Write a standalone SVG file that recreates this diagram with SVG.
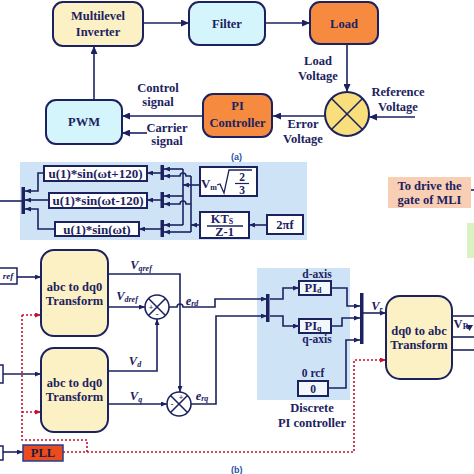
<svg xmlns="http://www.w3.org/2000/svg" width="474" height="474" viewBox="0 0 474 474">
<defs>
<style>
.t{font-family:"Liberation Serif","Times New Roman",serif;font-weight:bold;fill:#1c2260;text-anchor:middle}
.s12{font-size:12.5px}
.s13{font-size:12.5px}
.s11{font-size:11.5px}
.it{font-style:italic}
.lab{font-family:"Liberation Sans",Arial,sans-serif;font-size:9px;fill:#2b55a8;font-weight:bold}
.bx{stroke:#1c2260;stroke-width:2}
.ln{fill:none;stroke:#1c2260;stroke-width:1.6}
.rd{fill:none;stroke:#c8102e;stroke-width:1.6;stroke-dasharray:2,2}
.bar{fill:#1c2260}
</style>
<marker id="a" markerUnits="userSpaceOnUse" markerWidth="8" markerHeight="7" refX="8" refY="3.5" orient="auto"><path d="M0,0 L8,3.5 L0,7 z" fill="#1c2260"/></marker>
<marker id="s" markerUnits="userSpaceOnUse" markerWidth="6" markerHeight="5" refX="6" refY="2.5" orient="auto"><path d="M0,0 L6,2.5 L0,5 z" fill="#1c2260"/></marker>
<marker id="r" markerUnits="userSpaceOnUse" markerWidth="6" markerHeight="5" refX="6" refY="2.5" orient="auto"><path d="M0,0 L6,2.5 L0,5 z" fill="#c8102e"/></marker>
</defs>
<rect width="474" height="474" fill="#ffffff"/>

<!-- panels -->
<rect x="20" y="162" width="287" height="78" fill="#cfe3f7"/>
<rect x="257" y="268" width="93" height="132" fill="#cfe3f7"/>

<!-- connectors -->
<g id="connectors">
<line class="ln" x1="143" y1="23" x2="189" y2="23" marker-end="url(#a)"/>
<line class="ln" x1="265" y1="23" x2="310" y2="23" marker-end="url(#a)"/>
<line class="ln" x1="347" y1="44" x2="347" y2="92" marker-end="url(#a)"/>
<line class="ln" x1="415" y1="117" x2="369" y2="117" marker-end="url(#a)"/>
<line class="ln" x1="325" y1="116" x2="273" y2="116" marker-end="url(#a)"/>
<line class="ln" x1="203" y1="116" x2="122" y2="116" marker-end="url(#a)"/>
<line class="ln" x1="147" y1="133" x2="122" y2="133" marker-end="url(#a)"/>
<line class="ln" x1="94" y1="100" x2="94" y2="46" marker-end="url(#a)"/>

<line class="ln" x1="0" y1="201" x2="23" y2="201"/>
<polyline class="ln" points="44,173 38,173 38,191 25,191" marker-end="url(#s)"/>
<line class="ln" x1="49" y1="200" x2="25" y2="200" marker-end="url(#s)"/>
<polyline class="ln" points="55,229 38,229 38,209 25,209" marker-end="url(#s)"/>
<line class="ln" x1="162" y1="173" x2="147" y2="173" marker-end="url(#s)"/>
<line class="ln" x1="162" y1="200" x2="147" y2="200" marker-end="url(#s)"/>
<line class="ln" x1="162" y1="229" x2="139" y2="229" marker-end="url(#s)"/>
<line class="ln" x1="183" y1="169" x2="183" y2="225"/>
<line class="ln" x1="191" y1="176" x2="191" y2="232"/>
<line class="ln" x1="200" y1="185" x2="183" y2="185" marker-end="url(#s)"/>
<line class="ln" x1="200" y1="225" x2="191" y2="225" marker-end="url(#s)"/>
<line class="ln" x1="183" y1="169" x2="164" y2="169" marker-end="url(#s)"/>
<path class="ln" d="M191,176 L186,176 A3,3 0 0 0 180,176 L164,176" marker-end="url(#s)"/>
<line class="ln" x1="183" y1="196" x2="164" y2="196" marker-end="url(#s)"/>
<path class="ln" d="M191,204 L186,204 A3,3 0 0 0 180,204 L164,204" marker-end="url(#s)"/>
<line class="ln" x1="183" y1="225" x2="164" y2="225" marker-end="url(#s)"/>
<line class="ln" x1="191" y1="232" x2="164" y2="232" marker-end="url(#s)"/>
<line class="ln" x1="267" y1="225" x2="249" y2="225" marker-end="url(#s)"/>
<line class="ln" x1="474" y1="190" x2="471" y2="190"/>

<line class="ln" x1="17" y1="277" x2="41" y2="277" marker-end="url(#s)"/>
<line class="ln" x1="3" y1="374" x2="41" y2="374" marker-end="url(#s)"/>
<line class="ln" x1="3" y1="452" x2="23" y2="452" marker-end="url(#s)"/>
<polyline class="ln" points="108,274 180,274 180,392" marker-end="url(#s)"/>
<line class="ln" x1="108" y1="307" x2="145" y2="307" marker-end="url(#s)"/>
<polyline class="ln" points="108,371 157,371 157,319" marker-end="url(#s)"/>
<line class="ln" x1="108" y1="404" x2="167" y2="404" marker-end="url(#s)"/>
<path class="ln" d="M169,307 L177,307 A3,3 0 0 1 183,307 L215,307 L215,299 L267,299" marker-end="url(#s)"/>
<polyline class="ln" points="191,404 216,404 216,316 267,316" marker-end="url(#s)"/>
<polyline class="ln" points="270,299 283,299 283,288 299,288" marker-end="url(#s)"/>
<polyline class="ln" points="270,316 283,316 283,326 299,326" marker-end="url(#s)"/>
<polyline class="ln" points="331,288 347,288 347,306 360,306" marker-end="url(#s)"/>
<polyline class="ln" points="331,326 342,326 342,318 360,318" marker-end="url(#s)"/>
<polyline class="ln" points="328,388 346,388 346,340 360,340" marker-end="url(#s)"/>
<line class="ln" x1="363" y1="313" x2="386" y2="313" marker-end="url(#s)"/>
<line class="ln" x1="452" y1="316" x2="474" y2="316"/>
<line class="ln" x1="452" y1="337" x2="474" y2="337"/>
<line class="ln" x1="452" y1="350" x2="474" y2="350"/>
<path d="M466,325 L473,325 L469.5,331 z" fill="#1c2260"/>

<polyline class="rd" points="22,315 22,440 87,440 87,452"/>
<line class="rd" x1="22" y1="315" x2="41" y2="315" marker-end="url(#r)"/>
<line class="rd" x1="22" y1="412" x2="41" y2="412" marker-end="url(#r)"/>
<polyline class="rd" points="63,452 354,452 354,360 386,360" marker-end="url(#r)"/>
</g>

<g id="mli"><rect class="bx" x="53" y="2" width="90" height="44" rx="10" fill="#fcf1c4"/>
<text class="t s12" x="98" y="20">Multilevel</text><text class="t s12" x="98" y="36">Inverter</text></g>
<g id="filter"><rect class="bx" x="189" y="2" width="76" height="43" rx="10" fill="#d5f5fc"/>
<text class="t s12" x="227" y="28">Filter</text></g>
<g id="load"><rect class="bx" x="310" y="2" width="68" height="42" rx="10" fill="#f68b3f"/>
<text class="t s12" x="344" y="28">Load</text></g>
<g id="sum-a"><circle cx="347" cy="114" r="22" fill="#f8df7c" stroke="#1c2260" stroke-width="2"/>
<line class="ln" x1="331.5" y1="98.5" x2="362.5" y2="129.5"/><line class="ln" x1="362.5" y1="98.5" x2="331.5" y2="129.5"/></g>
<g id="pi"><rect class="bx" x="203" y="94" width="69" height="43" rx="10" fill="#f68b3f"/>
<text class="t s12" x="237.5" y="110">PI</text><text class="t s12" x="237.5" y="127">Controller</text></g>
<g id="pwm"><rect class="bx" x="46" y="100" width="76" height="44" rx="10" fill="#d5f5fc"/>
<text class="t s12" x="84" y="126">PWM</text></g>
<g id="labels-a">
<text class="t s12" x="158" y="92">Control</text><text class="t s12" x="158" y="106">signal</text>
<text class="t s12" x="167" y="132">Carrier</text><text class="t s12" x="167" y="145">signal</text>
<text class="t s12" x="318" y="65">Load</text><text class="t s12" x="318" y="80">Voltage</text>
<text class="t s12" x="398" y="96">Reference</text><text class="t s12" x="398" y="111">Voltage</text>
<text class="t s12" x="303" y="128">Error</text><text class="t s12" x="303" y="143">Voltage</text>
<text class="lab" x="231" y="160">(a)</text>
</g>

<g id="mux-left"><rect class="bar" x="21.5" y="187" width="3.5" height="27"/></g>
<g id="mux-r"><rect class="bar" x="160.5" y="165" width="3.5" height="15"/><rect class="bar" x="160.5" y="192" width="3.5" height="16"/><rect class="bar" x="160.5" y="220" width="3.5" height="17"/></g>
<g id="sin1"><rect class="bx" x="44" y="166" width="103" height="15" fill="#ffffff"/><text class="t" font-size="13" x="95.5" y="178">u(1)*sin(ωt+120)</text></g>
<g id="sin2"><rect class="bx" x="49" y="193" width="98" height="15" fill="#ffffff"/><text class="t" font-size="13" x="98" y="205">u(1)*sin(ωt-120)</text></g>
<g id="sin3"><rect class="bx" x="55" y="222" width="84" height="14" fill="#ffffff"/><text class="t" font-size="13" x="97" y="234">u(1)*sin(ωt)</text></g>
<g id="vm"><rect class="bx" x="200" y="167" width="57" height="29" fill="#ffffff"/>
<text class="t" font-size="13" x="209" y="188">V<tspan font-size="8" dy="2">m</tspan></text>
<path d="M217,185 L220,184 L224,193 L229,170 L252,170" fill="none" stroke="#1c2260" stroke-width="1.3"/>
<text class="t s11" x="242" y="181">2</text><line x1="235" y1="183.5" x2="249" y2="183.5" stroke="#1c2260" stroke-width="1.2"/><text class="t s11" x="242" y="194">3</text></g>
<g id="kts"><rect class="bx" x="200" y="212" width="49" height="26" fill="#ffffff"/>
<text class="t s12" x="222" y="223">KT<tspan font-size="8" dy="1">S</tspan></text>
<line x1="207" y1="226" x2="243" y2="226" stroke="#1c2260" stroke-width="1.3"/>
<text class="t s12" x="224.5" y="236">Z-1</text></g>
<g id="twopif"><rect class="bx" x="267" y="215" width="36" height="19" fill="#ffffff"/><text class="t s12" x="285" y="229">2πf</text></g>
<g id="drive"><rect x="388" y="177" width="83" height="31" fill="#f8cfb5"/>
<text class="t s12" x="429.5" y="190">To drive the</text><text class="t s12" x="429.5" y="204">gate of MLI</text></g>
<g id="green"><rect x="467" y="223" width="10" height="35" fill="#d9f2c1"/></g>

<g id="in1"><rect x="-5" y="268" width="22" height="16" fill="#ffffff" stroke="#1c2260" stroke-width="1.5"/>
<text class="t it" font-size="9" x="8" y="279">ref</text></g>
<g id="in2"><rect x="-5" y="365" width="8" height="18" fill="#ffffff" stroke="#1c2260" stroke-width="1.5"/></g>
<g id="in3"><rect x="-5" y="446" width="8" height="14" fill="#ffffff" stroke="#1c2260" stroke-width="1.5"/></g>
<g id="abc1"><rect class="bx" x="41" y="250" width="67" height="86" rx="13" fill="#fcf1c4"/>
<text class="t s13" x="74.5" y="291">abc to dq0</text><text class="t s13" x="74.5" y="305">Transform</text></g>
<g id="abc2"><rect class="bx" x="41" y="348" width="67" height="84" rx="13" fill="#fcf1c4"/>
<text class="t s13" x="74.5" y="387">abc to dq0</text><text class="t s13" x="74.5" y="401">Transform</text></g>
<g id="pll"><rect x="23" y="445" width="40" height="16" fill="#ec4b1c" stroke="#2a3d8f" stroke-width="1.5"/>
<text class="t s12" x="43" y="457" style="fill:#1b1b40">PLL</text></g>
<g id="sum1"><circle cx="157" cy="307" r="12" fill="#ffffff" stroke="#1c2260" stroke-width="1.6"/>
<line class="ln" x1="148.5" y1="298.5" x2="165.5" y2="315.5"/><line class="ln" x1="165.5" y1="298.5" x2="148.5" y2="315.5"/>
<text class="t" font-size="8" x="151" y="310">+</text><text class="t" font-size="8" x="157" y="317">-</text></g>
<g id="sum2"><circle cx="179" cy="404" r="12" fill="#ffffff" stroke="#1c2260" stroke-width="1.6"/>
<line class="ln" x1="170.5" y1="395.5" x2="187.5" y2="412.5"/><line class="ln" x1="187.5" y1="395.5" x2="170.5" y2="412.5"/>
<text class="t" font-size="8" x="181" y="400">+</text><text class="t" font-size="8" x="172" y="407">-</text></g>
<g id="labels-b">
<text class="t s12 it" x="141" y="269">V<tspan font-size="8" dy="2">qref</tspan></text>
<text class="t s12 it" x="127" y="300">V<tspan font-size="8" dy="2">dref</tspan></text>
<text class="t s12 it" x="192" y="305">e<tspan font-size="8" dy="1">rd</tspan></text>
<text class="t s12 it" x="135" y="365">V<tspan font-size="8" dy="2">d</tspan></text>
<text class="t s12 it" x="136" y="400">V<tspan font-size="8" dy="2">q</tspan></text>
<text class="t s12 it" x="202" y="400">e<tspan font-size="8" dy="1">rq</tspan></text>
<text class="t s12 it" x="377" y="310">V<tspan font-size="8" dy="2">r</tspan></text>
<text class="t s12" x="461" y="328">V<tspan font-size="8" dy="1">R</tspan></text>
<text class="lab" x="231" y="473">(b)</text>
</g>
<g id="bar1"><rect class="bar" x="266" y="294" width="3.5" height="28"/></g>
<g id="bar2"><rect class="bar" x="360" y="293" width="3.5" height="51"/></g>
<g id="pid"><text class="t s11" x="317" y="278">d-axis</text><rect class="bx" x="299" y="281" width="32" height="14" fill="#f2f7fc"/>
<text class="t s12" x="313" y="292">PI<tspan font-size="8" dy="1">d</tspan></text></g>
<g id="piq"><rect class="bx" x="299" y="319" width="32" height="14" fill="#f2f7fc"/>
<text class="t s12" x="313" y="330">PI<tspan font-size="8" dy="1">q</tspan></text><text class="t s11" x="317" y="343">q-axis</text></g>
<g id="zero"><text class="t s11" x="313" y="377">0 rcf</text><rect class="bx" x="298" y="381" width="30" height="15" fill="#f2f7fc"/>
<text class="t s11" x="313" y="393">0</text></g>
<text class="t s12" x="312" y="412">Discrete</text><text class="t s12" x="312" y="427">PI controller</text>
<g id="dq0abc"><rect class="bx" x="386" y="296" width="66" height="83" rx="14" fill="#fcf1c4"/>
<text class="t s13" x="419" y="335">dq0 to abc</text><text class="t s13" x="419" y="349">Transform</text></g>
</svg>
